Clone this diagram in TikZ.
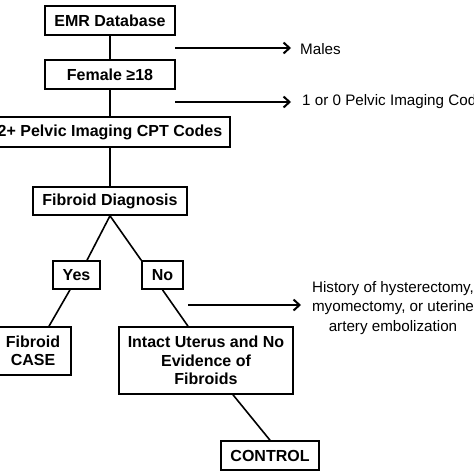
\documentclass[tikz,border=0pt]{standalone}
\usepackage{fontspec}
\setmainfont{Liberation Sans}
\usetikzlibrary{arrows.meta,calc}
\begin{document}
\begin{tikzpicture}[x=1pt,y=-1pt,
  box/.style={draw=black,line width=1.6pt,fill=white,inner sep=0pt,align=center,
    font=\fontsize{16}{18.5}\selectfont\bfseries},
  conn/.style={line width=1.6pt},
  exarrow/.style={line width=2pt,-{Straight Barb[length=6pt,width=11pt,line width=2pt]}},
  lbl/.style={font=\fontsize{15.2}{19.5}\selectfont,inner sep=0pt,align=center}]
\useasboundingbox (0,0) rectangle (474,474);
\clip (0,0) rectangle (474,474);
\fill[white] (0,0) rectangle (474,474);
\node[box,minimum width=130pt,minimum height=29pt] (emr) at (110,20.5) {EMR Database};
\node[box,minimum width=130pt,minimum height=29pt] (fem) at (110,74.5) {Female \char"2265 18};
\node[box,minimum width=240pt,minimum height=30pt] (pel) at (110,132) {2+ Pelvic Imaging CPT Codes};
\node[box,minimum width=154pt,minimum height=28pt] (fib) at (110,201) {Fibroid Diagnosis};
\node[box,minimum width=47pt,minimum height=28pt] (yes) at (76.5,275) {Yes};
\node[box,minimum width=41pt,minimum height=28pt] (no) at (162.5,275) {No};
\node[box,minimum width=76pt,minimum height=48pt] (case) at (33,351) {Fibroid\\CASE};
\node[box,minimum width=174pt,minimum height=67pt] (intact) at (206,360.5) {Intact Uterus and No\\Evidence of\\Fibroids};
\node[box,minimum width=98pt,minimum height=29pt] (ctrl) at (270,455.5) {CONTROL};

\draw[conn] (emr.south) -- (fem.north);
\draw[conn] (fem.south) -- (pel.north);
\draw[conn] (pel.south) -- (fib.north);
\draw[conn] (fib.south) -- ($(yes.north)+(10.5,0)$);
\draw[conn] (fib.south) -- (no.north west);
\draw[conn] ($(yes.south)+(-6.5,0)$) -- ($(case.north)+(16,0)$);
\draw[conn] (no.south) -- ($(intact.north)+(-18,0)$);
\draw[conn] ($(intact.south)+(27,0)$) -- (ctrl.north);

\coordinate (s1) at (175,48);
\coordinate (e1) at (291,48);
\coordinate (s2) at (175,102);
\coordinate (e2) at (291,102);
\coordinate (s3) at (188,305);
\coordinate (e3) at (301,305);
\draw[exarrow] (s1) -- (e1);
\draw[exarrow] (s2) -- (e2);
\draw[exarrow] (s3) -- (e3);
\node[lbl,anchor=west] (males) at (300,49) {Males};
\node[lbl,anchor=west] (pel01) at (302,102) {1 or 0 Pelvic Imaging Codes};
\node[lbl] (hist) at (393,308) {History of hysterectomy,\\myomectomy, or uterine\\artery embolization};
\end{tikzpicture}
\end{document}
